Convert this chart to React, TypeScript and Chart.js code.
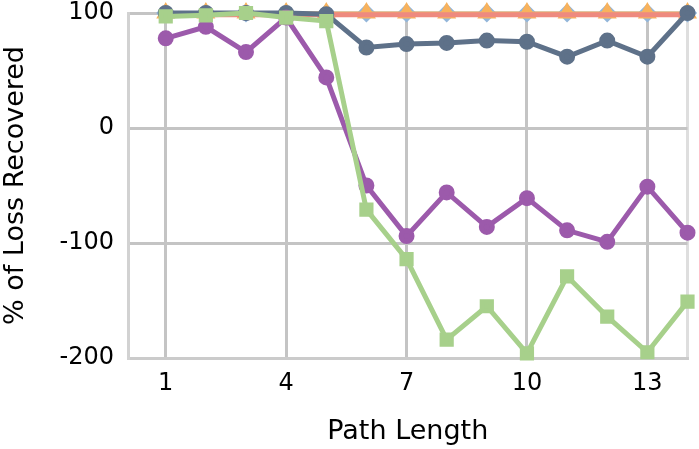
import React, { useEffect, useRef } from "react";
import { Chart, registerables } from "chart.js";

Chart.register(...registerables);

const pathLengths = [1, 2, 3, 4, 5, 6, 7, 8, 9, 10, 11, 12, 13, 14];
const xTickValues = [1, 4, 7, 10, 13];
const yTickValues = [-200, -100, 0, 100];

const darkSeries = [100, 100, 100, 100, 99, 70, 73, 74, 76, 75, 62, 76, 62, 100];
const purpleSeries = [78, 88, 66, 96, 44, -50, -94, -56, -86, -61, -89, -99, -51, -91];
const greenSeries = [97, 98, 100, 96, 93, -71, -114, -184, -155, -196, -129, -164, -195, -151];
const salmonSeries = [98.5, 98.5, 98.5, 98.5, 98.5, 98.5, 98.5, 98.5, 98.5, 98.5, 98.5, 98.5, 98.5, 98.5];
const orangeSeries = [100, 100, 100, 100, 100, 100, 100, 100, 100, 100, 100, 100, 100, 100];
const blueSeries = [100, 100, 100, 100, 100, 100, 100, 100, 100, 100, 100, 100, 100, 100];

const FONT = "'DejaVu Sans', sans-serif";

function toPoints(vals: number[]) {
  return vals.map((v, i) => ({ x: pathLengths[i], y: v }));
}

export default function App() {
  const ref = useRef<HTMLCanvasElement | null>(null);

  useEffect(() => {
    document.body.style.margin = "0";
    const canvas = ref.current;
    if (!canvas) return;
    const base = {
      showLine: true,
      clip: false as any,
      borderWidth: 5,
    };
    const chart = new Chart(canvas, {
      type: "scatter",
      data: {
        datasets: [
          {
            ...base,
            label: "green",
            data: toPoints(greenSeries),
            borderColor: "#a7d08b",
            backgroundColor: "#a7d08b",
            pointStyle: "rect",
            pointRadius: 6.5,
            order: 0,
          },
          {
            ...base,
            label: "purple",
            data: toPoints(purpleSeries),
            borderColor: "#9c5aab",
            backgroundColor: "#9c5aab",
            pointStyle: "circle",
            pointRadius: 5.5,
            order: 1,
          },
          {
            ...base,
            label: "dark",
            data: toPoints(darkSeries),
            borderColor: "#5e7189",
            backgroundColor: "#5e7189",
            pointStyle: "circle",
            pointRadius: 5.5,
            order: 2,
          },
          {
            ...base,
            label: "salmon",
            data: toPoints(salmonSeries),
            borderColor: "#ee8a7f",
            backgroundColor: "#ee8a7f",
            pointRadius: 0,
            borderWidth: 5,
            order: 3,
          },
          {
            ...base,
            label: "orange",
            data: toPoints(orangeSeries),
            borderColor: "#f8b25c",
            backgroundColor: "#f8b25c",
            pointStyle: "triangle",
            pointRadius: 8,
            borderWidth: 3,
            order: 4,
          },
          {
            ...base,
            label: "blue",
            data: toPoints(blueSeries),
            borderColor: "#93b6da",
            backgroundColor: "#93b6da",
            pointStyle: "rectRot",
            pointRadius: 7.5,
            borderWidth: 3,
            order: 5,
          },
        ],
      },
      options: {
        responsive: false,
        animation: false,
        layout: { padding: { top: 13, right: 5, left: 0, bottom: 0 } },
        plugins: { legend: { display: false }, tooltip: { enabled: false } },
        elements: { line: { tension: 0 }, point: { borderWidth: 0 } },
        scales: {
          x: {
            type: "linear",
            min: 0.06,
            max: 14,
            afterBuildTicks: (scale: any) => {
              scale.ticks = [...xTickValues, 14].map((v) => ({ value: v }));
            },
            afterFit: (scale: any) => {
              scale.height = 91;
            },
            ticks: {
              autoSkip: false,
              maxRotation: 0,
              padding: 11,
              color: "#000",
              font: { family: FONT, size: 24 },
              callback: (v: any) => (xTickValues.includes(Number(v)) ? String(v) : ""),
            },
            grid: {
              drawTicks: false,
              lineWidth: 3,
              color: (ctx: any) => (ctx.tick && ctx.tick.value === 14 ? "#dedede" : "#c4c4c4"),
            },
            border: { display: true, color: "#cbcbcb", width: 3 },
            title: {
              display: true,
              text: "Path Length",
              color: "#000",
              font: { family: FONT, size: 27 },
              padding: { top: 0, bottom: 1 },
            },
          },
          y: {
            type: "linear",
            min: -200,
            max: 100,
            afterBuildTicks: (scale: any) => {
              scale.ticks = yTickValues.map((v) => ({ value: v }));
            },
            afterFit: (scale: any) => {
              scale.width = 128;
              scale.paddingTop = 0;
              scale.paddingBottom = 0;
            },
            ticks: {
              padding: 14,
              color: "#000",
              font: { family: FONT, size: 24 },
            },
            grid: { drawTicks: false, lineWidth: 3, color: "#c4c4c4" },
            border: { display: true, color: "#d2d2d2", width: 3 },
            title: {
              display: true,
              text: "% of Loss Recovered",
              color: "#000",
              font: { family: FONT, size: 27 },
              padding: { top: 0, bottom: 0 },
            },
          },
        },
      },
    });
    return () => chart.destroy();
  }, []);

  return (
    <div style={{ width: 699, height: 449, background: "#fff" }}>
      <canvas ref={ref} width={699} height={449} style={{ display: "block" }} />
    </div>
  );
}
